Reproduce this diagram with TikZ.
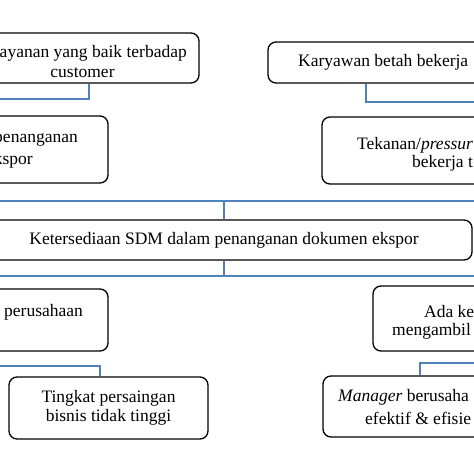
\documentclass[tikz,border=0pt]{standalone}
\usepackage{fontspec}
\setmainfont{Liberation Serif}
\usepackage{tikz}
\usetikzlibrary{calc}
\definecolor{garisbiru}{RGB}{79,129,189}

\begin{document}
\begin{tikzpicture}[x=1pt,y=-1pt,
	kotak/.style={draw=black, line width=1.3pt, rounded corners=8pt, inner sep=0pt},
	tulisan/.style={inner sep=0pt, font=\fontsize{17.5}{19}\selectfont},
	penghubung/.style={draw=garisbiru, line width=2.2pt}]
	\useasboundingbox (0,0) rectangle (474,474);
	\clip (0,0) rectangle (474,474);

	% kotak-kotak
	\node[kotak, minimum width=259pt, minimum height=50pt] (pelayanan) at (69.5,58) {};
	\node[kotak, minimum width=168pt, minimum height=67pt] (penanganan) at (24,149.5) {};
	\node[kotak, minimum width=272pt, minimum height=41pt] (karyawan) at (404,62.5) {};
	\node[kotak, minimum width=238pt, minimum height=67pt] (tekanan) at (441,150.5) {};
	\node[kotak, tulisan, minimum width=496pt, minimum height=40pt] (sdm) at (224,240) {Ketersediaan SDM dalam penanganan dokumen ekspor};
	\node[kotak, minimum width=168pt, minimum height=62pt] (perusahaan) at (24,320) {};
	\node[kotak, tulisan, align=center, minimum width=199pt, minimum height=62pt] (tingkat) at (108.5,408) {Tingkat persaingan\\bisnis tidak tinggi};
	\node[kotak, minimum width=187pt, minimum height=65pt] (ada) at (466.5,318.5) {};
	\node[kotak, minimum width=237pt, minimum height=61pt] (manager) at (441.5,406.5) {};

	% tulisan
	\node[tulisan, anchor=east] (pelayananA) at (187,53) {ayanan yang baik terbadap};
	\node[tulisan] (pelayananB) at (82.5,73) {customer};
	\node[tulisan, anchor=east] (penangananA) at (78,140) {penanganan};
	\node[tulisan, anchor=east] (penangananB) at (33,160) {kspor};
	\node[tulisan, anchor=west] (karyawanA) at (298,62) {Karyawan betah bekerja};
	\node[tulisan, anchor=west] (tekananA) at (357,145) {Tekanan/\textit{pressur}};
	\node[tulisan, anchor=west] (tekananB) at (412,163) {bekerja t};
	\node[tulisan, anchor=west] (perusahaanA) at (4,312) {perusahaan};
	\node[tulisan, anchor=west] (adaA) at (424,312) {Ada ke};
	\node[tulisan, anchor=west] (adaB) at (392,331) {mengambil};
	\node[tulisan, anchor=west] (managerA) at (338,397) {\textit{Manager} berusaha};
	\node[tulisan, anchor=west] (managerB) at (365,418) {efektif \& efisie};

	% garis penghubung
	\coordinate (kiriA) at (-5,99);
	\coordinate (kananA) at (480,102);
	\coordinate (atasKiri) at (-5,201);
	\coordinate (atasKanan) at (480,201);
	\coordinate (bawahKiri) at (-5,276);
	\coordinate (bawahKanan) at (480,276);
	\coordinate (kiriB) at (-5,366);
	\coordinate (kananB) at (480,363);

	\draw[penghubung] ([xshift=19.5pt]pelayanan.south) |- (kiriA);
	\draw[penghubung] ([xshift=-38pt]karyawan.south) |- (kananA);
	\draw[penghubung] (atasKiri) -- (atasKanan);
	\draw[penghubung] (sdm.north) -- (sdm.north |- atasKiri);
	\draw[penghubung] (bawahKiri) -- (bawahKanan);
	\draw[penghubung] (sdm.south) -- (sdm.south |- bawahKiri);
	\draw[penghubung] (kiriB) -| ([xshift=-8.5pt]tingkat.north);
	\draw[penghubung] ([xshift=-21.5pt]manager.north) |- (kananB);
\end{tikzpicture}
\end{document}
